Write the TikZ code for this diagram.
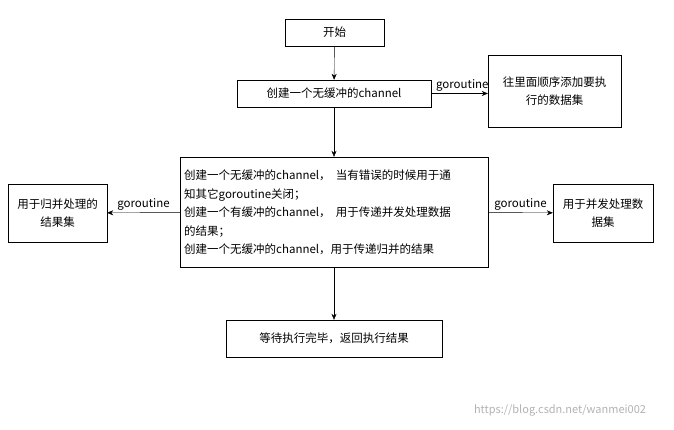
\documentclass[tikz,border=0pt]{standalone}
\usepackage{fontspec}
\setmainfont{Noto Sans CJK SC}
\usetikzlibrary{arrows.meta}
\begin{document}
\begin{tikzpicture}[x=1pt,y=-1pt,font=\fontsize{11.5}{18.5}\selectfont,
  box/.style={draw,inner sep=0pt,align=center},
  arr/.style={-{Stealth[length=6pt,width=5pt]}},
  lab/.style={font=\fontsize{11.5}{13}\selectfont}]
\useasboundingbox (0,0) rectangle (674,430);
\node[box,minimum width=99pt,minimum height=27pt] (s) at (334.5,32.5) {开始};
\node[box,minimum width=194pt,minimum height=27pt] (c) at (334,93.5) {创建一个无缓冲的channel};
\node[box,minimum width=133pt,minimum height=72pt] (r1) at (554.5,91) {往里面顺序添加要执\\行的数据集};
\node[box,minimum width=308pt,minimum height=110pt] (m) at (334,212) {};
\node[align=left,anchor=north west,inner sep=0pt] (mt) at (184,170) {创建一个无缓冲的channel，\ \ 当有错误的时候用于通\\知其它goroutine关闭；\\创建一个有缓冲的channel，\ \ 用于传递并发处理数据\\的结果；\\创建一个无缓冲的channel，用于传递归并的结果};
\node[box,minimum width=99pt,minimum height=58pt] (l) at (57.5,213) {用于归并处理的\\结果集};
\node[box,minimum width=100pt,minimum height=58pt] (r2) at (603,213) {用于并发处理数\\据集};
\node[box,minimum width=216pt,minimum height=37pt] (b) at (334,338.5) {等待执行完毕，返回执行结果};
\draw[arr] (s) -- (c);
\draw[arr] (c) -- (r1.west |- c) node[lab,pos=0.55,above=-1pt] {goroutine};
\draw[arr] (c) -- (m);
\draw[arr] (m) -- (l) node[lab,midway,above=-1pt] {goroutine};
\draw[arr] (m) -- (r2) node[lab,midway,above=-1pt] {goroutine};
\draw[arr] (m) -- (b);
\node[text=gray!60,font=\fontsize{11}{13}\selectfont] (w) at (560,410) {https://blog.csdn.net/wanmei002};
\end{tikzpicture}
\end{document}
